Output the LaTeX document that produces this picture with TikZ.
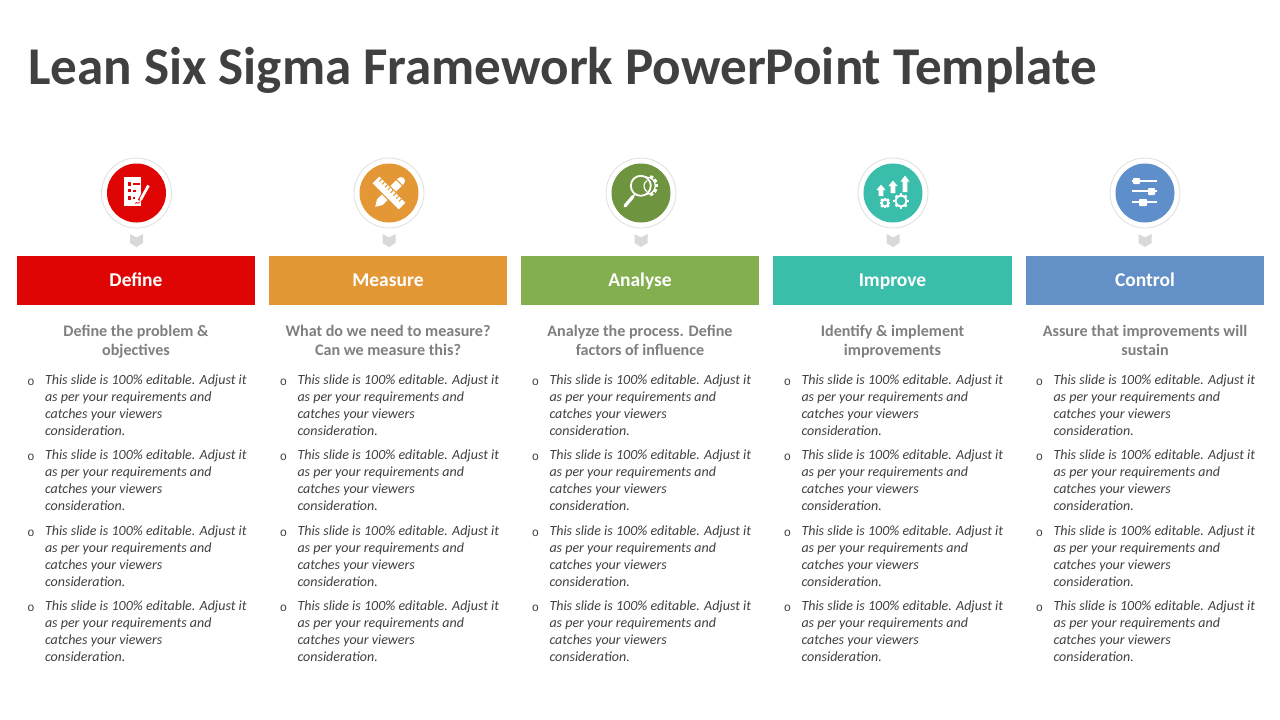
\documentclass[tikz,border=0pt]{standalone}
\usepackage{fontspec}
\setmainfont{Carlito}
\newfontfamily\bulletfont{Liberation Mono}
\definecolor{cRed}{HTML}{E00505}
\definecolor{cOrange}{HTML}{E39835}
\definecolor{cGreen}{HTML}{84AF50}
\definecolor{cGreenDark}{HTML}{6F9440}
\definecolor{cTeal}{HTML}{3BBDAB}
\definecolor{cBlue}{HTML}{6490C8}
\definecolor{cBlueDark}{HTML}{5F8FCB}
\definecolor{cTitle}{HTML}{404040}
\definecolor{cHead}{HTML}{7F7F7F}
\definecolor{cRing}{HTML}{E2E2E2}
\definecolor{cChev}{HTML}{D9D9D9}
\tikzset{
  ring/.style={circle,draw=cRing,line width=0.9pt,fill=white,minimum size=70pt,inner sep=0pt},
  disc/.style={circle,minimum size=59pt,inner sep=0pt},
  band/.style={minimum height=49pt,inner sep=0pt,text height=16.5pt,text depth=4pt,font=\fontsize{19.5pt}{20pt}\selectfont\bfseries,text=white},
  heading/.style={align=center,text=cHead,font=\fontsize{16.1pt}{19pt}\selectfont\bfseries,inner sep=0pt,anchor=north},
  bodytext/.style={align=left,text=cTitle,font=\fontsize{14pt}{16.8pt}\selectfont\itshape,inner sep=0pt,anchor=north west},
  bulletmark/.style={text=cTitle,font=\bulletfont\fontsize{12pt}{12pt}\selectfont,inner sep=0pt,anchor=base},
  icodoc/.pic={
    \fill[white] (-13,-16) rectangle (4,13);
    \foreach \yy in {-9,-2.3,5}{\fill[cRed] (-9,\yy-1.7) rectangle (-5.8,\yy+1.7);}
    \foreach \yy/\xe in {-9/3,-2.3/-1,5/-2}{\fill[cRed] (-4,\yy-0.8) rectangle (\xe,\yy+0.8);}
    \draw[cRed,line width=4.8pt] (3.5,8) -- (12,-7.5);
    \draw[white,line width=2.8pt] (4.5,6) -- (12,-7.5);
    \fill[white] (3,9.5) -- (3.4,5) -- (6,6.4) -- cycle;
    \draw[cRed,line width=0.8pt] (-1,10.5) .. controls (0,8) and (1,12) .. (3,9);
  },
  icoruler/.pic={
    \begin{scope}[rotate=45]
      \fill[white] (-13,-4) -- (14,-4) -- (14,4) -- (-13,4) -- (-19.5,0) -- cycle;
      \fill[white] (15.5,-4) -- (17,-4) arc[start angle=-90,end angle=90,radius=4] -- (15.5,4) -- cycle;
    \end{scope}
    \begin{scope}[rotate=-45]
      \fill[cOrange] (-19.5,-6) rectangle (19.5,6);
      \fill[white] (-18.5,-4.6) rectangle (18.5,4.6);
      \foreach \xx in {-15,-11,...,15}{\fill[cOrange] (\xx-0.5,-4.6) rectangle (\xx+0.5,-1.2);}
    \end{scope}
  },
  icolens/.pic={
    \draw[white,line width=1.2pt,fill=cGreenDark] (5.7,-7.3) circle[radius=8.6];
    \foreach \aa in {-60,-30,...,60}{\fill[white,rotate around={\aa:(5.7,-7.3)}] (14,-9) rectangle (17,-5.6);}
    \draw[white,line width=1.8pt,fill=cGreenDark] (-0.2,-7.2) circle[radius=10];
    \draw[white,line width=1.2pt] (6.25,-1.4) arc[start angle=120,end angle=240,radius=6.5];
    \draw[white,line width=1.5pt] (-6,1) -- (-8,3.5);
    \draw[white,line width=3.2pt,line cap=round] (-8,3.5) -- (-16,13);
  },
  gear/.pic={
    \draw[white,line width=2pt] (0,0) circle[radius=\gearr];
    \foreach \aa in {0,45,...,315}{\fill[white,rotate=\aa] (\gearr+0.4,-1.3) rectangle (\gearr+2,1.3);}
  },
  icogrow/.pic={
    \fill[white] (-14.4,-3) rectangle (-9.6,3) (-16.5,-3) -- (-12,-8.5) -- (-7.5,-3) -- cycle;
    \fill[white] (-2.4,-7) rectangle (2.4,0) (-4.5,-7) -- (0,-12.5) -- (4.5,-7) -- cycle;
    \fill[white] (9.6,-11.5) rectangle (14.4,-1) (7.5,-11.5) -- (12,-17.5) -- (16.5,-11.5) -- cycle;
    \def\gearr{3.4}\path (-8,10) pic {gear};
    \def\gearr{5.6}\path (8,8) pic {gear};
  },
  icosliders/.pic={
    \fill[white] (-13,-12.7) rectangle (12,-11.3);
    \fill[white,rounded corners=0.8pt] (-12,-15) rectangle (-5,-9);
    \fill[white] (-13,-2.7) rectangle (12,-1.3);
    \fill[white,rounded corners=0.8pt] (3,-5) rectangle (10,2);
    \fill[white] (-13,8.3) rectangle (12,9.7);
    \fill[white,rounded corners=0.8pt] (-6,6) rectangle (2,13);
  },
}
\newcommand{\bodyblurb}{This slide is 100\% editable. Adjust it\\as per your requirements and\\catches your viewers\\consideration.}
\newcommand{\column}[8]{%
  \node[ring] (ring#1) at (#2,193) {};
  \node[disc,fill=#6] (disc#1) at (#2,193) {};
  \fill[cChev] (#2-6.5,234) -- (#2,237.5) -- (#2+6.5,234) -- (#2+6.5,243) -- (#2,247) -- (#2-6.5,243) -- cycle;
  \node[band,fill=#5,minimum width=#4pt] (band#1) at (#3,280.5) {#7};
  \node[heading] (head#1) at (#3,324.5) {#8};
  \foreach \yb/\k in {385/a,460/b,536/c,611/d}{
    \node[bulletmark] (bul#1\k) at (#2-105.5,\yb) {o};
    \node[bodytext] (txt#1\k) at (#2-91.7,\yb-10) {\bodyblurb};
  }
}
\begin{document}
\begin{tikzpicture}[x=1pt,y=-1pt]
\useasboundingbox (0,0) rectangle (1280,720);
\fill[white] (0,0) rectangle (1280,720);
\node[anchor=base west,inner sep=0pt,text=cTitle,font=\fontsize{53.1pt}{55pt}\selectfont\bfseries] (title) at (28,84) {Lean Six Sigma Framework PowerPoint Template};
\column{A}{136.5}{136}{238}{cRed}{cRed}{Define}{Define the problem \&\\objectives}
\column{B}{389}{388}{238}{cOrange}{cOrange}{Measure}{What do we need to measure?\\Can we measure this?}
\column{C}{641}{640}{238}{cGreen}{cGreenDark}{Analyse}{Analyze the process. Define\\factors of influence}
\column{D}{893}{892.5}{239}{cTeal}{cTeal}{Improve}{Identify \& implement\\improvements}
\column{E}{1145}{1145}{238}{cBlue}{cBlueDark}{Control}{Assure that improvements will\\sustain}
\path (136.5,193) pic {icodoc};
\path (389,193) pic {icoruler};
\path (641,193) pic {icolens};
\path (893,193) pic {icogrow};
\path (1145,193) pic {icosliders};
\end{tikzpicture}
\end{document}
